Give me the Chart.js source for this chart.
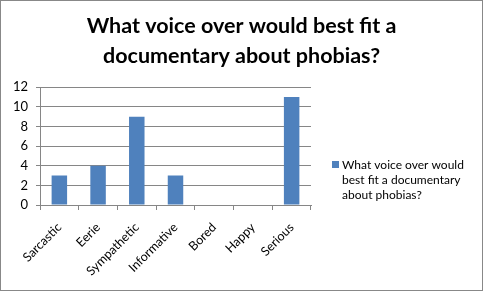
<!DOCTYPE html>
<html>
<head>
<meta charset="utf-8">
<script src="https://cdn.jsdelivr.net/npm/chart.js@4"></script>
<style>
  html, body { margin: 0; padding: 0; background: #fff; }
  #wrap { position: relative; width: 483px; height: 291px; box-sizing: border-box; border: 1px solid #888; }
</style>
</head>
<body>
<div id="wrap"><canvas id="chart" width="481" height="289"></canvas></div>
<script>
const categories = ["Sarcastic", "Eerie", "Sympathetic", "Informative", "Bored", "Happy", "Serious"];
const values = [3, 4, 9, 3, 0, 0, 11];
const yTicks = [0, 2, 4, 6, 8, 10, 12];
const seriesName = "What voice over would best fit a documentary about phobias?";
const titleLines = ["What voice over would best fit a", "documentary about phobias?"];
const legendLines = ["What voice over would", "best fit a documentary", "about phobias?"];

const barColor = "#4F81BD";
const gridColor = "#868686";
const fontFam = "Lato, 'Liberation Sans', sans-serif";

// legend on the right, wrapped like the original
const sideLegend = {
  id: "sideLegend",
  afterDraw(chart) {
    const ctx = chart.ctx;
    ctx.save();
    ctx.fillStyle = barColor;
    ctx.fillRect(331, 160, 7, 7);
    ctx.fillStyle = "#000";
    ctx.font = "12px " + fontFam;
    ctx.textBaseline = "middle";
    legendLines.forEach((t, k) => ctx.fillText(t, 341, 164 + k * 15));
    ctx.restore();
  }
};

const chart = document.getElementById("chart");
new Chart(chart, {
  type: "bar",
  data: {
    labels: categories,
    datasets: [{
      label: seriesName,
      data: values,
      backgroundColor: barColor,
      borderWidth: 0,
      categoryPercentage: 1,
      barPercentage: 0.4,
    }],
  },
  options: {
    responsive: false,
    animation: false,
    layout: { padding: 0 },
    plugins: {
      legend: { display: false },
      tooltip: { enabled: false },
      title: {
        display: true,
        text: titleLines,
        color: "#000",
        font: { family: fontFam, size: 21.5, weight: "bold", lineHeight: 1.4 },
        padding: { top: 10, bottom: 16 },
      },
    },
    scales: {
      y: {
        min: 0,
        max: 12,
        afterBuildTicks(scale) {
          scale.ticks = yTicks.map(v => ({ value: v }));
        },
        afterFit(scale) { scale.width = 39; },
        border: { color: gridColor },
        grid: { color: gridColor, tickLength: 4 },
        ticks: { color: "#000", padding: 8, font: { family: fontFam, size: 13 } },
      },
      // empty space on the right where the legend sits
      side: {
        position: "right",
        afterFit(scale) { scale.width = 171; },
        border: { display: false },
        grid: { display: false },
        ticks: { display: false },
      },
      x: {
        afterFit(scale) { scale.height = 85; },
        border: { color: gridColor },
        grid: { color: gridColor, drawOnChartArea: false, tickLength: 5, offset: true },
        ticks: { color: "#000", minRotation: 45, maxRotation: 45, padding: 10, font: { family: fontFam, size: 12.5 } },
      },
    },
  },
  plugins: [sideLegend],
});
</script>
</body>
</html>
